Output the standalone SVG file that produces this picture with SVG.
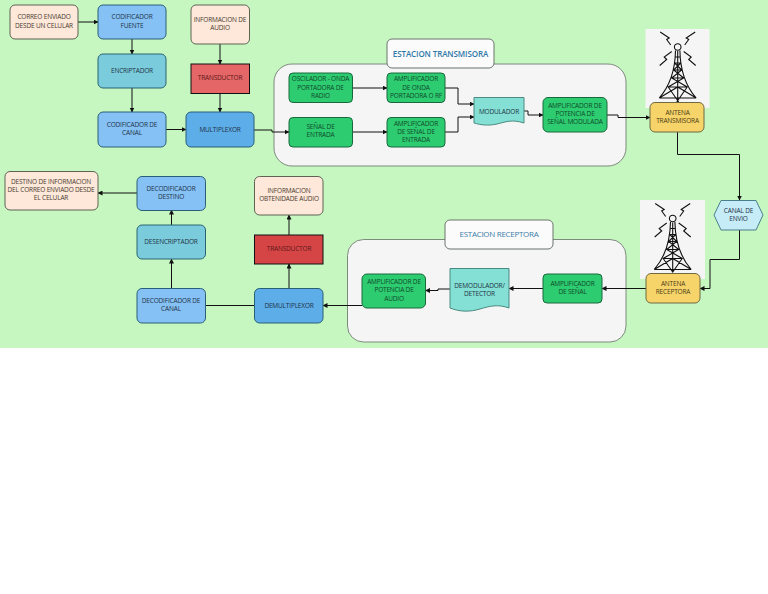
<svg xmlns="http://www.w3.org/2000/svg" width="768" height="594" viewBox="0 0 768 594">
<style>
.t{font-family:"Open Sans","Liberation Sans",sans-serif;font-size:6.5px;letter-spacing:-.17px;text-anchor:middle;fill:#1f3345}
.ti{font-family:"Open Sans","Liberation Sans",sans-serif;font-size:8px;letter-spacing:-.1px;text-anchor:middle}
.peach{fill:#fde8d9;stroke:#5f6353}
.blue{fill:#85c1f5;stroke:#2a5f78}
.blue2{fill:#5dade8;stroke:#2a5f78}
.teal{fill:#7accdc;stroke:#2a6272}
.green{fill:#2ecc71;stroke:#18683c}
.doc{fill:#84e0d4;stroke:#4a8a80}
.yellow{fill:#f7d46a;stroke:#6f6840}
.panel{fill:#f5f5f5;stroke:#7d8a7d;stroke-width:1}
.red{stroke:#111;stroke-width:1}
.c{fill:none;stroke:#111;stroke-width:1}
.tw{fill:none;stroke:#111;stroke-width:1.1}
.dg{fill:#0e4a2a}
.br{fill:#4a3a30}
.ye{fill:#4a3c14}
.rd{fill:#5c1a1a}
</style>
<defs>
<marker id="a" markerWidth="5" markerHeight="5" refX="4.5" refY="2.5" orient="auto" markerUnits="userSpaceOnUse"><path d="M0 0L5 2.500L0 5Z" fill="#111"/></marker>
<g id="tower">
<circle cx="0" cy="0" r="3.300" class="tw"/>
<path class="tw" d="M-2.200 3.500C-2.500 22-7 38-18.500 51M2.200 3.500C2.500 22 7 38 18.500 51M0 4V55M-2.500 10H2.500M-3 16H3M-4 23H4M-6 31H6M-9.500 40H9.500M-18.500 51H18.500M-3 16L4 23L-6 31L9.500 40L-1 55M3 16L-4 23L6 31L-9.500 40L1 55M-18.500 51L0 40L18.500 51"/>
<path class="tw" d="M-7 -2L-11 -7.500L-8.500 -9L-17.500 -15M7 -2L11 -7.500L8.500 -9L17.500 -15M-6 4.500L-13.500 10L-11 12.500L-18 18.500M6 4.500L13.500 10L11 12.500L18 18.500"/>
</g>
</defs>
<rect x="0" y="0" width="768" height="594" fill="#fff"/>
<rect x="0" y="0" width="768" height="348" fill="#c6f7c1"/>

<g id="panel-tx"><rect class="panel" x="274" y="64" width="352" height="102" rx="18"/></g>
<g id="panel-rx"><rect class="panel" x="347.500" y="239.500" width="278.500" height="102.500" rx="16"/></g>
<g id="title-tx"><rect x="387" y="39" width="107" height="29" rx="5" fill="#fbfbfb" stroke="#6d756d"/><text class="ti" x="440.500" y="57" font-weight="600" fill="#2f79a8">ESTACION TRANSMISORA</text></g>
<g id="title-rx"><rect x="445" y="220" width="108" height="29" rx="5" fill="#fbfbfb" stroke="#6d756d"/><text class="ti" x="499" y="237" fill="#3b7ca6" style="letter-spacing:-.3px">ESTACION RECEPTORA</text></g>

<g id="tower-tx"><rect x="645.500" y="29" width="64" height="79" fill="#f5f5f5"/><use href="#tower" x="677.700" y="47"/></g>
<g id="tower-rx"><rect x="640" y="200" width="65" height="79" fill="#f5f5f5"/><use href="#tower" x="672.700" y="218.500"/></g>

<g id="connectors">
<path class="c" marker-end="url(#a)" d="M78 22H98"/>
<path class="c" marker-end="url(#a)" d="M132 39V54"/>
<path class="c" marker-end="url(#a)" d="M132 88V112"/>
<path class="c" marker-end="url(#a)" d="M166 129.500H186"/>
<path class="c" marker-end="url(#a)" d="M220 44V64"/>
<path class="c" marker-end="url(#a)" d="M220 93.500V112"/>
<path class="c" marker-end="url(#a)" d="M254 130H272V132H289"/>
<path class="c" marker-end="url(#a)" d="M352 88H387"/>
<path class="c" marker-end="url(#a)" d="M352 132H387"/>
<path class="c" marker-end="url(#a)" d="M445 88H458V104H474"/>
<path class="c" marker-end="url(#a)" d="M445 132H458V117H474"/>
<path class="c" marker-end="url(#a)" d="M524 111H528V115H543"/>
<path class="c" marker-end="url(#a)" d="M607 115H618V117.500H650"/>
<path class="c" marker-end="url(#a)" d="M677.500 132V154.500H739.500V200"/>
<path class="c" marker-end="url(#a)" d="M739.500 230V259.500H710V288.500H700"/>
<path class="c" marker-end="url(#a)" d="M646 288.500H602"/>
<path class="c" marker-end="url(#a)" d="M543 288.500H509"/>
<path class="c" marker-end="url(#a)" d="M450 289H438V290.500H425.500"/>
<path class="c" marker-end="url(#a)" d="M362 305.500H323"/>
<path class="c" marker-end="url(#a)" d="M289 288V264"/>
<path class="c" marker-end="url(#a)" d="M289 235V215"/>
<path class="c" d="M254.500 305.500H205.500"/>
<path class="c" marker-end="url(#a)" d="M171.500 288V259"/>
<path class="c" marker-end="url(#a)" d="M171.500 225V210"/>
<path class="c" marker-end="url(#a)" d="M137 193H98"/>
</g>

<g id="n1"><rect class="peach" x="10" y="5" width="68" height="34" rx="5"/><text class="t br" x="44" y="19">CORREO ENVIADO</text><text class="t br" x="44" y="28">DESDE UN CELULAR</text></g>
<g id="n2"><rect class="blue" x="98" y="5" width="68" height="34" rx="5"/><text class="t" x="132" y="19">CODIFICADOR</text><text class="t" x="132" y="28">FUENTE</text></g>
<g id="n3"><rect class="teal" x="98" y="54" width="68" height="34" rx="5"/><text class="t" x="132" y="73">ENCRIPTADOR</text></g>
<g id="n4"><rect class="blue" x="98" y="112" width="68" height="35" rx="5"/><text class="t" x="132" y="127">CODIFICADOR DE</text><text class="t" x="132" y="135">CANAL</text></g>
<g id="n5"><rect class="peach" x="191" y="5" width="58.500" height="39" rx="5"/><text class="t br" x="220" y="22">INFORMACION DE</text><text class="t br" x="220" y="30">AUDIO</text></g>
<g id="n6"><rect class="red" fill="#e56666" x="191" y="64" width="58.500" height="29.500"/><text class="t rd" x="220" y="80">TRANSDUCTOR</text></g>
<g id="n7"><rect class="blue2" x="186" y="112" width="68" height="35" rx="5"/><text class="t" x="220" y="132">MULTIPLEXOR</text></g>

<g id="n8"><rect class="green" x="289" y="73" width="63.500" height="29.500" rx="4"/><text class="t dg" x="320.500" y="81">OSCILADOR - ONDA</text><text class="t dg" x="320.500" y="89.500">PORTADORA DE</text><text class="t dg" x="320.500" y="98">RADIO</text></g>
<g id="n9"><rect class="green" x="387" y="73" width="58" height="29.500" rx="4"/><text class="t dg" x="416" y="81">AMPLIFICADOR</text><text class="t dg" x="416" y="89.500">DE ONDA</text><text class="t dg" x="416" y="98">PORTADORA O RF</text></g>
<g id="n10"><rect class="green" x="289" y="117.500" width="63.500" height="29.500" rx="4"/><text class="t dg" x="320.500" y="129">SEÑAL DE</text><text class="t dg" x="320.500" y="137">ENTRADA</text></g>
<g id="n11"><rect class="green" x="387" y="117.500" width="58" height="29.500" rx="4"/><text class="t dg" x="416" y="125.500">AMPLIFICADOR</text><text class="t dg" x="416" y="133.500">DE SEÑAL DE</text><text class="t dg" x="416" y="142">ENTRADA</text></g>
<g id="n12"><path class="doc" d="M474 97.500H524V123C512 119 505 122 497 124C488 126 481 125 474 123Z"/><text class="t" x="499" y="114">MODULADOR</text></g>
<g id="n13"><rect class="green" x="543" y="97.500" width="64" height="34.500" rx="5"/><text class="t dg" x="575" y="108">AMPLIFICADOR DE</text><text class="t dg" x="575" y="116">POTENCIA DE</text><text class="t dg" x="575" y="124">SEÑAL MODULADA</text></g>
<g id="n14"><rect class="yellow" x="650" y="102.500" width="54" height="29.500" rx="5"/><text class="t ye" x="677.500" y="115">ANTENA</text><text class="t ye" x="677.500" y="123">TRANSMISORA</text></g>

<g id="n15"><path d="M721 200.500H756L763 215L756 230H721L714 215Z" fill="#c5ecf7" stroke="#4a7f8c"/><text class="t" x="738.500" y="212.500">CANAL DE</text><text class="t" x="738.500" y="220.500">ENVIO</text></g>
<g id="n16"><rect class="yellow" x="646" y="273.500" width="54" height="29.500" rx="5"/><text class="t ye" x="673" y="286">ANTENA</text><text class="t ye" x="673" y="294">RECEPTORA</text></g>
<g id="n17"><rect class="green" x="543" y="274" width="59" height="29" rx="4"/><text class="t dg" x="572.500" y="286">AMPLIFICADOR</text><text class="t dg" x="572.500" y="294">DE SEÑAL</text></g>
<g id="n18"><path class="doc" d="M450 268.500H509V308C498 304 490 306 480 309C470 312 460 312 450 308Z"/><text class="t" x="479.500" y="288">DEMODULADOR/</text><text class="t" x="479.500" y="296">DETECTOR</text></g>
<g id="n19"><rect class="green" x="362" y="274" width="63.500" height="34" rx="5"/><text class="t dg" x="394" y="284">AMPLIFICADOR DE</text><text class="t dg" x="394" y="292">POTENCIA DE</text><text class="t dg" x="394" y="300.500">AUDIO</text></g>
<g id="n20"><rect class="blue2" x="254.500" y="288.500" width="68.500" height="34.500" rx="5"/><text class="t" x="289" y="308">DEMULTIPLEXOR</text></g>
<g id="n21"><rect class="red" fill="#d64545" x="254.500" y="235" width="68.500" height="29"/><text class="t rd" x="289" y="251">TRANSDUCTOR</text></g>
<g id="n22"><rect class="peach" x="254.500" y="176.500" width="68.500" height="38.500" rx="5"/><text class="t br" x="289" y="193">INFORMACION</text><text class="t br" x="289" y="201">OBTENIDADE AUDIO</text></g>
<g id="n23"><rect class="blue" x="137" y="288.500" width="68.500" height="34.500" rx="5"/><text class="t" x="171" y="303">DECODIFICADOR DE</text><text class="t" x="171" y="311">CANAL</text></g>
<g id="n24"><rect class="teal" x="137" y="225" width="68.500" height="34" rx="5"/><text class="t" x="171" y="243.500">DESENCRIPTADOR</text></g>
<g id="n25"><rect class="blue" x="137" y="176.500" width="68.500" height="34" rx="5"/><text class="t" x="171" y="191">DECODIFICADOR</text><text class="t" x="171" y="199">DESTINO</text></g>
<g id="n26"><rect class="peach" x="5" y="171.500" width="93" height="38.500" rx="5"/><text class="t br" x="51" y="184">DESTINO DE INFORMACION</text><text class="t br" x="51" y="192">DEL CORREO ENVIADO DESDE</text><text class="t br" x="51" y="200">EL CELULAR</text></g>
</svg>
